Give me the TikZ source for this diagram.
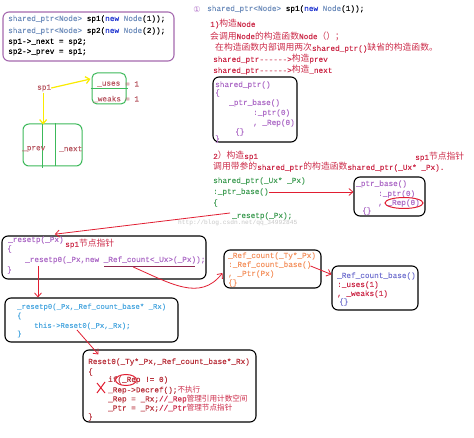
\documentclass[tikz,border=0pt]{standalone}
\usepackage{fontspec}
\setmainfont{Liberation Serif}
\setmonofont{Liberation Mono}
\newfontfamily\codefont{Liberation Mono}[FakeBold=0.2]
\newfontfamily\cjk{Noto Sans CJK SC}
\newfontfamily\dejavu{DejaVu Sans}
\newcommand{\zh}[1]{{\cjk\fontsize{8.8}{9}\selectfont #1}}
\newcommand{\zhs}[1]{{\cjk\fontsize{7.6}{9}\selectfont #1}}
\usetikzlibrary{arrows.meta,calc}
\definecolor{pbox}{RGB}{165,105,175}
\definecolor{tblue}{RGB}{115,145,190}
\definecolor{kw}{RGB}{40,60,210}
\definecolor{cred}{RGB}{205,45,75}
\definecolor{cpur}{RGB}{175,110,200}
\definecolor{cgreen}{RGB}{70,160,90}
\definecolor{cyel}{RGB}{250,235,0}
\definecolor{gbox}{RGB}{60,185,90}
\definecolor{corange}{RGB}{245,150,100}
\definecolor{cbp}{RGB}{120,120,210}
\definecolor{clb}{RGB}{80,170,225}
\definecolor{cbr}{RGB}{185,50,60}
\definecolor{arr}{RGB}{225,30,50}
\definecolor{ulc}{RGB}{140,40,80}
\definecolor{lsp}{RGB}{185,90,100}
\tikzset{
  code/.style={anchor=west, inner sep=0pt, font=\codefont\fontsize{7.7}{9}\selectfont},
  codes/.style={anchor=west, inner sep=0pt, font=\codefont\fontsize{7.3}{9}\selectfont},
  cbox/.style={draw=black, rounded corners=6pt, line width=1.1pt, inner sep=0pt},
  gbx/.style={draw=gbox, rounded corners=5pt, line width=1pt, inner sep=0pt},
  redarr/.style={draw=arr, line width=0.8pt, -{Straight Barb[length=4pt,width=7pt]}},
  yelarr/.style={draw=cyel, line width=1.2pt, -{Straight Barb[length=4pt,width=7pt]}},
}
\begin{document}
\begin{tikzpicture}[x=1pt,y=-1pt]
\fill[white] (0,0) rectangle (474,438);
\useasboundingbox (0,0) rectangle (474,438);

% ---------- top-left code box
\node[draw=pbox, rounded corners=6pt, line width=1.1pt, minimum width=171, minimum height=49, inner sep=0pt] (btl) at (88.5,36.5) {};
\node[code] (a1) at (8,19) {\textcolor{tblue}{shared\_ptr<Node>} sp1(\textcolor{kw}{new} \textcolor{tblue}{Node}(1));};
\node[code] (a2) at (8,31) {\textcolor{tblue}{shared\_ptr<Node>} sp2(\textcolor{kw}{new} \textcolor{tblue}{Node}(2));};
\node[code] (a3) at (8,42) {sp1->\_next = sp2;};
\node[code] (a4) at (8,52) {sp2->\_prev = sp1;};

% ---------- left diagram
\node[code, text=lsp] (sp) at (37,88) {sp1};
\node[gbx, minimum width=34, minimum height=31] (bu) at (109,88.5) {};
\draw[gbox, line width=1pt] ($(bu.west)+(-1,0)$) -- ($(bu.east)+(1,0)$);
\node[code, text=lsp] (u1) at (97,84) {\_uses};
\node[code, text=lsp] (u2) at (125,84) {= 1};
\node[code, text=lsp] (u3) at (93,99) {\_weaks};
\node[code, text=lsp] (u4) at (125,99) {= 1};
\node[gbx, rounded corners=6pt, minimum width=59, minimum height=42] (bn) at (52.5,145) {};
\draw[gbox, line width=1pt] ($(bn.north west)+(20,0)$) -- ($(bn.south west)+(20,2)$);
\draw[gbox, line width=1pt] ($(bn.north west)+(33,0)$) -- ($(bn.south west)+(33,0)$);
\node[code, text=lsp] (n1) at (22,149) {\_prev};
\node[code, text=lsp] (n2) at (59,149) {\_next};
\coordinate (spb) at ($(sp.south)+(-1,1)$);
\coordinate (bnt) at ($(bn.north west)+(20,1)$);
\draw[yelarr] (sp.east) -- ($(bu.west)+(-1,-9.5)$);
\draw[yelarr] (spb) -- (spb |- bnt);

% ---------- top-right explanation
\node[inner sep=0pt, font=\dejavu\fontsize{8}{8}\selectfont, text=cpur] (c0) at (197,10) {①};
\node[code] (c1) at (207,9) {\textcolor{tblue}{shared\_ptr<Node>} sp1(\textcolor{kw}{new} \textcolor{tblue}{Node}(1));};
\node[code, text=cred] (c2) at (210,24) {1)\zh{构造}Node};
\node[code, text=cred] (c3) at (210,36) {\zh{会调用}Node\zh{的构造函数}Node\zh{（）；}};
\node[code, text=cred] (c4) at (215,48) {\zh{在构造函数内部调用两次}shared\_ptr()\zh{缺省的构造函数。}};
\node[code, text=cred] (c5) at (213,59) {shared\_ptr------>\zh{构造}prev};
\node[code, text=cred] (c6) at (213,70) {shared\_ptr------>\zh{构造}\_next};

% shared_ptr() box
\node[cbox, minimum width=84, minimum height=65] (bsp) at (255,109.5) {};
\node[code, text=cpur] (s1) at (215,85) {shared\_ptr()};
\node[code, text=cpur] (s2) at (215,93) {\{};
\node[code, text=cpur] (s3) at (229,103) {\_ptr\_base()};
\node[code, text=cpur] (s4) at (253,113) {:\_ptr(0)};
\node[code, text=cpur] (s5) at (253,123) {, \_Rep(0)};
\node[code, text=cpur] (s6) at (235,132) {\{\}};
\node[code, text=cpur] (s7) at (215,139) {\}};

% 2) construct sp1
\node[code, text=cred] (d1) at (213,156) {2\zh{）构造}sp1};
\node[code, text=cred] (d2) at (213,167) {\zh{调用带参的}shared\_ptr\zh{的构造函数}shared\_ptr(\_Ux* \_Px).};
\node[code, text=cred] (d3) at (415,157) {sp1\zh{节点指针}};
\node[code, text=cgreen] (g1) at (213,181) {shared\_ptr(\_Ux* \_Px)};
\node[code, text=cgreen] (g2) at (213,192) {:\_ptr\_base()};
\node[code, text=cgreen] (g3) at (213,203) {\{};
\node[code, text=cgreen] (g4) at (232,216) {\_resetp(\_Px);};
\node[anchor=west, inner sep=0pt, font=\ttfamily\fontsize{6.2}{7}\selectfont, text=black!22] (wm) at (178,223) {http://blog.csdn.net/qq\_34992845};

% _ptr_base box
\node[cbox, minimum width=71, minimum height=39] (bpb) at (389.5,196.5) {};
\node[code, text=cpur] (p1) at (356,184) {\_ptr\_base()};
\node[code, text=cpur] (p2) at (378,194) {:\_ptr(0)};
\node[code, text=cpur] (p3) at (378,203) {, \_Rep(0)};
\node[code, text=cpur] (p4) at (362,211) {\{\}};
\draw[arr, line width=1pt] (404,203) ellipse [x radius=19, y radius=5.5];
\draw[redarr] (g2.east) -- (g2.east -| bpb.west);

% _resetp box
\node[cbox, minimum width=204, minimum height=43] (brs) at (104,257.5) {};
\node[code, text=cpur] (r1) at (8,240) {\_resetp(\_Px)};
\node[code, text=cred] (r2) at (65,244) {sp1\zh{节点指针}};
\node[code, text=cpur] (r3) at (7,249) {\{};
\node[code, text=cpur] (r4) at (25,260) {\_resetp0(\_Px,new \_Ref\_count<\_Ux>(\_Px));};
\node[code, text=cpur] (r5) at (7,270) {\}};
\coordinate (ul1) at ($(r4.west)+(79,7)$);
\coordinate (ul2) at ($(r4.west)+(170,7)$);
\draw[ulc, line width=1pt] (ul1) -- (ul2);
\draw[redarr] ($(g4.west)+(-2,-3)$) -- ($(r1.north east)+(-9,-2)$);

% _Ref_count box
\node[cbox, minimum width=97, minimum height=38] (brc) at (272.5,269) {};
\node[code, text=corange] (q1) at (228,256) {\_Ref\_count(\_Ty*\_Px)};
\node[code, text=corange] (q2) at (228,265) {:\_Ref\_count\_base()};
\node[code, text=corange] (q3) at (228,274) {, \_Ptr(Px)};
\node[code, text=corange] (q4) at (228,283) {\{\}};
\draw[redarr] ($(ul1)!0.32!(ul2)$) .. controls (170,283) and (200,302) .. ($(brc.west)+(-1,4)$);

% _Ref_count_base box
\node[cbox, minimum width=86, minimum height=44] (brb) at (375,288) {};
\node[code, text=cbp] (w1) at (337,276) {\_Ref\_count\_base()};
\node[code, text=cred] (w2) at (337,285) {:\_uses(1)};
\node[code, text=cred] (w3) at (337,294) {, \_weaks(1)};
\node[code, text=cbp] (w4) at (339,302) {\{\}};
\draw[redarr] ($(q2.east)+(-1,1)$) -- ($(brb.north west)+(0,9)$);

% _resetp0 box
\node[cbox, minimum width=173, minimum height=44] (bp0) at (91.5,320) {};
\node[codes, text=clb] (v1) at (17,307) {\_resetp0(\_Px,\_Ref\_count\_base* \_Rx)};
\node[codes, text=clb] (v2) at (17,316) {\{};
\node[codes, text=clb] (v3) at (34,326) {this->Reset0(\_Px,\_Rx);};
\node[codes, text=clb] (v4) at (17,334) {\}};
\coordinate (rp0) at ($(r4.west)+(13,6)$);
\draw[redarr] (rp0) -- (rp0 |- bp0.north);

% Reset0 box
\node[cbox, minimum width=173, minimum height=72] (bR) at (169.5,386) {};
\node[code, text=cbr] (x1) at (88,362) {Reset0(\_Ty*\_Px,\_Ref\_count\_base*\_Rx)};
\node[code, text=cbr] (x2) at (88,372) {\{};
\node[code, text=cbr] (x3) at (108,380) {if(\_Rep != 0)};
\node[code, text=cbr] (x4) at (108,390) {\_Rep->Decref();\textcolor{cred}{\zhs{不执行}}};
\node[code, text=cbr] (x5) at (108,399) {\_Rep = \_Rx;\textcolor{cred}{//\_Rep\zhs{管理引用计数空间}}};
\node[code, text=cbr] (x6) at (108,408) {\_Ptr = \_Px;\textcolor{cred}{//\_Ptr\zhs{管理节点指针}}};
\node[code, text=cbr] (x7) at (88,417) {\}};
\draw[arr, line width=1pt] (126,380) ellipse [x radius=10.5, y radius=5.5];
\draw[arr, line width=1pt] (97,383) -- (105,393) (97,393) -- (105,382);
\draw[redarr] ($(v3.west)+(43,4)$) -- ($(bR.north west)+(16,5)$);
\end{tikzpicture}
\end{document}
